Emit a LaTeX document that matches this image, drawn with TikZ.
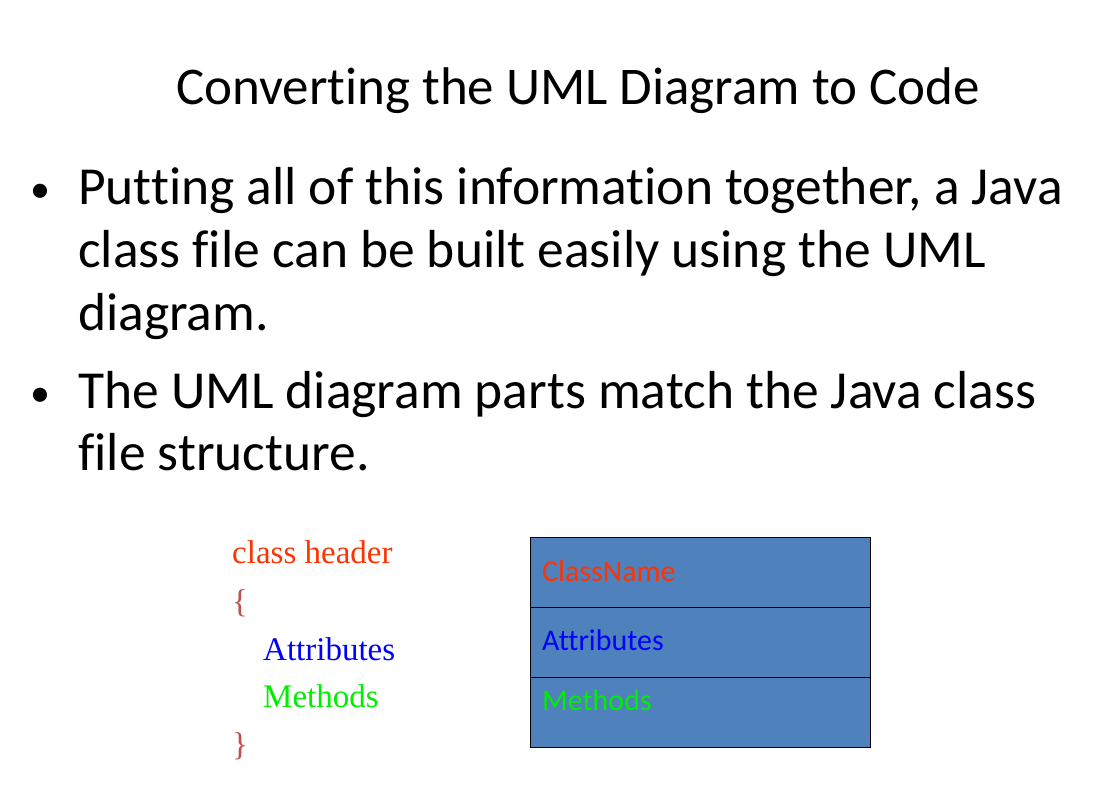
\documentclass[tikz,border=0pt]{standalone}
\usepackage{fontspec}
\setmainfont{Carlito}[Ligatures={NoCommon,NoRare}]
\newfontfamily\codefont{Liberation Serif}
\definecolor{hdr}{HTML}{FF3300}
\definecolor{brc}{HTML}{C0504D}
\definecolor{boxfill}{HTML}{4F81BD}
\definecolor{grn}{HTML}{00EE00}
\begin{document}
\begin{tikzpicture}[x=1pt,y=-1pt,
  txt/.style={anchor=base west,inner sep=0pt},
  big/.style={txt,font=\fontsize{53.5}{60}\selectfont},
  code/.style={txt,font=\codefont\fontsize{33}{38}\selectfont},
  lbl/.style={txt,font=\fontsize{30}{34}\selectfont}]
\useasboundingbox[fill=white] (0,0) rectangle (1110,802);
\node[txt,font=\fontsize{53}{60}\selectfont] (title) at (176,105) {Converting the UML Diagram to Code};
\node[big,font=\fontsize{40}{48}\selectfont] (b1) at (30,203) {•};
\node[big] (l1) at (78,205) {Putting all of this information together, a Java};
\node[big] (l2) at (78,268) {class file can be built easily using the UML};
\node[big] (l3) at (78,330) {diagram.};
\node[big,font=\fontsize{40}{48}\selectfont] (b2) at (30,406) {•};
\node[big] (l4) at (78,408) {The UML diagram parts match the Java class};
\node[big] (l5) at (78,470) {file structure.};
\node[code,text=hdr] (ch) at (232,563) {class header};
\node[code,text=brc] (ob) at (232,612) {\{};
\node[code,text=blue] (ca) at (263,660) {Attributes};
\node[code,text=grn] (cm) at (263,707) {Methods};
\node[code,text=brc] (cb) at (232,755) {\}};
\draw[fill=boxfill,draw=black] (530,537) rectangle (870,747);
\draw (530,607) -- (870,607) (530,677) -- (870,677);
\node[lbl,text=hdr] (cn) at (542,581) {ClassName};
\node[lbl,text=blue] (at) at (542,650) {Attributes};
\node[lbl,text=grn] (me) at (542,710) {Methods};
\end{tikzpicture}
\end{document}
